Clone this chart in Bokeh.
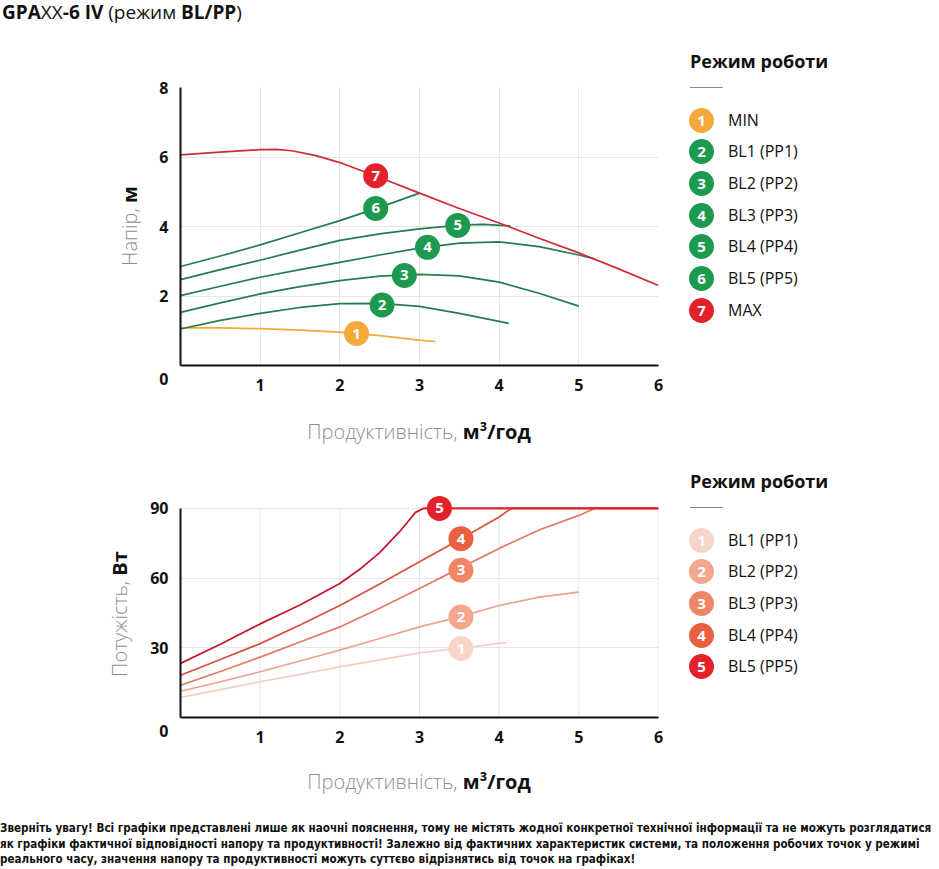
from bokeh.plotting import figure
from bokeh.models import Range1d, Div, FixedTicker
from bokeh.layouts import column, row
from bokeh.embed import file_html
from bokeh.resources import INLINE
from bokeh.core.properties import value

FONT = "Open Sans"

# ---------------- head chart (H, m  vs  Q, m3/h) ----------------
min_x = [0, 0.5, 1, 1.5, 2, 2.5, 3, 3.2]
min_y = [1.08, 1.08, 1.06, 1.02, 0.96, 0.86, 0.73, 0.69]
bl1_x = [0, 0.5, 1, 1.5, 2, 2.5, 3, 3.5, 4, 4.12]
bl1_y = [1.05, 1.30, 1.50, 1.67, 1.78, 1.79, 1.70, 1.50, 1.27, 1.21]
bl2_x = [0, 0.5, 1, 1.5, 2, 2.5, 3, 3.5, 4, 4.5, 5]
bl2_y = [1.53, 1.80, 2.06, 2.27, 2.44, 2.57, 2.62, 2.58, 2.40, 2.08, 1.71]
bl3_x = [0, 0.5, 1, 1.5, 2, 2.5, 3, 3.5, 4, 4.5, 5, 5.2]
bl3_y = [2.01, 2.28, 2.54, 2.76, 2.97, 3.18, 3.38, 3.52, 3.56, 3.42, 3.18, 3.07]
bl4_x = [0, 0.5, 1, 1.5, 2, 2.5, 3, 3.5, 3.8, 4.14]
bl4_y = [2.47, 2.76, 3.03, 3.32, 3.60, 3.79, 3.93, 4.04, 4.06, 4.02]
bl5_x = [0, 0.5, 1, 1.5, 2, 2.5, 3]
bl5_y = [2.85, 3.15, 3.47, 3.82, 4.17, 4.55, 4.96]
max_x = [0, 0.5, 1, 1.2, 1.4, 1.7, 2, 2.5, 3, 3.5, 4, 4.5, 5, 5.5, 6]
max_y = [6.06, 6.14, 6.21, 6.22, 6.18, 6.04, 5.84, 5.41, 4.96, 4.52, 4.10, 3.66, 3.24, 2.78, 2.30]

head_mark_x = [2.21, 2.53, 2.81, 3.10, 3.48, 2.45, 2.45]
head_mark_y = [0.92, 1.74, 2.59, 3.40, 4.03, 4.52, 5.46]
head_mark_txt = ["1", "2", "3", "4", "5", "6", "7"]
head_labels = ["MIN", "BL1 (PP1)", "BL2 (PP2)", "BL3 (PP3)", "BL4 (PP4)", "BL5 (PP5)", "MAX"]
head_xticks = [1, 2, 3, 4, 5, 6]
head_yticks = [0, 2, 4, 6, 8]

# ---------------- power chart (P, W  vs  Q, m3/h) ----------------
p1_x = [0, 0.5, 1, 1.5, 2, 2.5, 3, 3.5, 4, 4.1]
p1_y = [8.6, 12.0, 15.4, 18.6, 21.8, 24.8, 27.8, 29.8, 31.9, 32.2]
p2_x = [0, 0.5, 1, 1.5, 2, 2.5, 3, 3.5, 4, 4.5, 5]
p2_y = [11.3, 15.4, 19.7, 24.3, 29.0, 34.0, 39.0, 43.3, 48.2, 51.8, 54.0]
p3_x = [0, 0.5, 1, 1.5, 2, 2.5, 3, 3.5, 4, 4.5, 5, 5.2, 6]
p3_y = [13.9, 19.8, 26.0, 32.5, 39.0, 47.0, 55.5, 64.2, 72.8, 80.7, 87.0, 90.0, 90.0]
p4_x = [0, 0.5, 1, 1.5, 2, 2.5, 3, 3.5, 4, 4.15, 6]
p4_y = [18.2, 25.0, 31.8, 39.8, 48.2, 57.5, 67.0, 76.5, 86.3, 90.0, 90.0]
p5_x = [0, 0.5, 1, 1.5, 2, 2.25, 2.5, 2.75, 2.95, 3.05, 6]
p5_y = [23.3, 31.5, 40.3, 48.4, 57.7, 63.8, 71.0, 80.0, 88.3, 90.0, 90.0]

pow_mark_x = [3.52, 3.52, 3.52, 3.52, 3.25]
pow_mark_y = [29.7, 43.3, 63.4, 77.0, 90.0]
pow_mark_txt = ["1", "2", "3", "4", "5"]
pow_labels = ["BL1 (PP1)", "BL2 (PP2)", "BL3 (PP3)", "BL4 (PP4)", "BL5 (PP5)"]
pow_xticks = [1, 2, 3, 4, 5, 6]
pow_yticks = [0, 30, 60, 90]

# ---------------- styles ----------------
ORANGE = "#F4A93B"
GREEN = "#1E9A50"
RED = "#E3212B"
head_line_colors = ["#F2A93B", "#257C4D", "#257C4D", "#257C4D", "#257C4D", "#257C4D", "#D22B38"]
head_mark_colors = [ORANGE, GREEN, GREEN, GREEN, GREEN, GREEN, RED]
pow_line_colors = ["#F5CDBF", "#EDA48D", "#E27B62", "#D9503F", "#C2182E"]
pow_mark_colors = ["#F8D5C9", "#F3A78F", "#EE8567", "#E8603F", "#E2212A"]
INK = "#111111"
GREY = "#8f8f8f"
GRID = "#e6e6e6"


def base_chart(ymax_range, frame_h, b_top, b_bottom, xticks, yticks):
    p = figure(x_range=Range1d(0, 6), y_range=Range1d(0, ymax_range),
               output_backend="svg", toolbar_location=None,
               min_border_left=40, min_border_right=22,
               min_border_top=b_top, min_border_bottom=b_bottom, margin=0)
    p.frame_width = 478
    p.frame_height = frame_h
    p.outline_line_color = None
    p.background_fill_color = "white"
    p.border_fill_color = "white"
    p.xaxis.ticker = FixedTicker(ticks=xticks)
    p.yaxis.ticker = FixedTicker(ticks=yticks)
    p.yaxis.major_label_overrides = {0: "\n0"}
    for ax in (p.xaxis, p.yaxis):
        ax.axis_line_color = INK
        ax.axis_line_width = 2
        ax.major_tick_line_color = None
        ax.minor_tick_line_color = None
        ax.major_tick_out = 0
        ax.major_tick_in = 0
        ax.major_label_text_font = FONT
        ax.major_label_text_font_style = "bold"
        ax.major_label_text_font_size = "16px"
        ax.major_label_text_color = INK
    p.xaxis.major_label_standoff = 13
    p.yaxis.major_label_standoff = 12
    p.yaxis.bounds = (0, max(yticks))
    p.ygrid.grid_line_color = GRID
    p.ygrid.grid_line_width = 1
    return p


# ---------------- head chart ----------------
ph = base_chart(8, 278, 63, 40, head_xticks, head_yticks)
ph.xgrid.grid_line_color = GRID
ph.xgrid.grid_line_width = 1

head_series = [(min_x, min_y), (bl1_x, bl1_y), (bl2_x, bl2_y), (bl3_x, bl3_y),
               (bl4_x, bl4_y), (bl5_x, bl5_y), (max_x, max_y)]
for (xs, ys), c in zip(head_series, head_line_colors):
    ph.line(xs, ys, line_color=c, line_width=1.7, line_join="round")
ph.scatter(head_mark_x, head_mark_y, size=25, fill_color=head_mark_colors, line_color=None)
ph.text(head_mark_x, head_mark_y, text=head_mark_txt, text_color="white",
        text_font=value(FONT), text_font_style="bold", text_font_size="15px",
        text_align="center", text_baseline="middle")

# ---------------- power chart ----------------
pp = base_chart(96, 223, 44, 40, pow_xticks, pow_yticks)
pp.xgrid.visible = False
pp.segment(x0=pow_xticks, y0=[0] * len(pow_xticks), x1=pow_xticks,
           y1=[max(pow_yticks)] * len(pow_xticks), line_color=GRID, line_width=1,
           level="underlay")

pow_series = [(p1_x, p1_y), (p2_x, p2_y), (p3_x, p3_y), (p4_x, p4_y), (p5_x, p5_y)]
for (xs, ys), c in zip(pow_series, pow_line_colors):
    pp.line(xs, ys, line_color=c, line_width=1.7, line_join="round")
pp.line([3.05, 6], [90, 90], line_color="#E2212A", line_width=1.8)
pp.scatter(pow_mark_x, pow_mark_y, size=25, fill_color=pow_mark_colors, line_color=None)
pp.text(pow_mark_x, pow_mark_y, text=pow_mark_txt, text_color="white",
        text_font=value(FONT), text_font_style="bold", text_font_size="15px",
        text_align="center", text_baseline="middle")

# ---------------- HTML pieces (axis titles, legends, title, note) ----------------
TXT = "font-family:'Open Sans',sans-serif;white-space:nowrap;"


def axis_title(light, bold, w, h, cx, cy, rotate):
    rot = " rotate(-90deg)" if rotate else ""
    html = (
        f"<div style='position:relative;width:{w}px;height:{h}px;'>"
        f"<div style=\"position:absolute;left:{cx}px;top:{cy}px;"
        f"transform:translate(-50%,-50%){rot};{TXT}font-size:20px;line-height:26px;\">"
        f"<span style='color:{GREY};font-weight:300'>{light}</span> "
        f"<span style='color:{INK};font-weight:700'>{bold}</span></div></div>"
    )
    return Div(text=html, width=w, height=h, margin=0)


def legend_div(w, h, y0, labels, colors):
    parts = [f"<div style='position:relative;width:{w}px;height:{h}px;'>"]
    parts.append(
        f"<div style=\"position:absolute;left:10px;top:{y0 - 12.5:.1f}px;{TXT}font-size:18px;"
        f"line-height:25px;font-weight:700;color:{INK};\">Режим роботи</div>")
    parts.append(f"<div style='position:absolute;left:10px;top:{y0 + 25:.1f}px;width:33px;"
                 f"height:1px;background:#8a8a8a;'></div>")
    for i, (lab, col) in enumerate(zip(labels, colors)):
        top = y0 + 45.8 + 31.67 * i
        parts.append(
            f"<div style=\"position:absolute;left:9px;top:{top:.1f}px;width:25px;height:25px;"
            f"border-radius:50%;background:{col};color:white;text-align:center;{TXT}"
            f"font-size:15px;font-weight:700;line-height:25px;\">{i + 1}</div>")
        parts.append(
            f"<div style=\"position:absolute;left:48px;top:{top:.1f}px;{TXT}font-size:16px;"
            f"line-height:25px;color:{INK};\">{lab}</div>")
    parts.append("</div>")
    return Div(text="".join(parts), width=w, height=h, margin=0)


ylab_h = axis_title("Напір,", "м", 140, 426, 130, 202, True)
xlab_h = axis_title("Продуктивність,", "м³/год", 540, 45, 279, 27, False)
ylab_p = axis_title("Потужість,", "Вт", 140, 350, 120, 164, True)
xlab_p = axis_title("Продуктивність,", "м³/год", 540, 43, 279, 25, False)

leg_h = legend_div(259, 426, 37.7, head_labels, head_mark_colors)
leg_p = legend_div(259, 350, 31.7, pow_labels, pow_mark_colors)

title = Div(
    text=("<div style=\"" + TXT + "font-size:19px;line-height:24px;padding-left:2px;"
          "color:#111;\"><b>GPA</b>XX<b>-6 IV</b> (режим <b>BL/PP</b>)</div>"),
    width=939, height=24, margin=0)

footer_text = (
    "Зверніть увагу! Всі графіки представлені лише як наочні пояснення, тому не містять жодної "
    "конкретної технічної інформації та не можуть розглядатися<br>"
    "як графіки фактичної відповідності напору та продуктивності! Залежно від фактичних "
    "характеристик системи, та положення робочих точок у режимі<br>"
    "реального часу, значення напору та продуктивності можуть суттєво відрізнятись від точок на графіках!"
)
footer = Div(
    text=("<div style=\"padding-top:20px;font-family:'Liberation Sans Narrow','DejaVu Sans Condensed',"
          "sans-serif;font-weight:bold;font-size:13px;line-height:15.5px;color:#111;"
          "white-space:nowrap;transform:scaleX(0.89);transform-origin:0 0;\">"
          + footer_text + "</div>"),
    width=939, height=68, margin=0)

top_block = row(ylab_h, column(ph, xlab_h, margin=0, spacing=0), leg_h, margin=0, spacing=0)
bot_block = row(ylab_p, column(pp, xlab_p, margin=0, spacing=0), leg_p, margin=0, spacing=0)
layout = column(title, top_block, bot_block, footer, margin=0, spacing=0)

open("out.html", "w").write(file_html(layout, INLINE))
